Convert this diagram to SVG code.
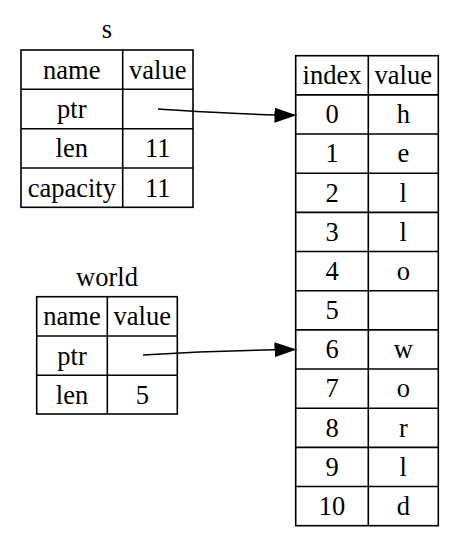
<svg xmlns="http://www.w3.org/2000/svg" width="460" height="538" viewBox="0 0 460 538">
<style>
text{font-family:"Liberation Serif","Times New Roman",serif;font-size:26.5px;fill:#000;text-anchor:middle}
.g{fill:#fff;stroke:#000;stroke-width:1.6}
.c{stroke:#000;stroke-width:1.6;fill:none}
.e{stroke:#000;stroke-width:1.5;fill:none}
</style>
<defs>
<marker id="ah" markerUnits="userSpaceOnUse" markerWidth="24" markerHeight="16" refX="22" refY="7.5" orient="auto">
<path d="M0,0 L22,7.5 L0,15 Z" fill="#000"/>
</marker>
</defs>
<rect width="460" height="538" fill="#fff"/>
<g id="s">
<text x="107" y="38">s</text>
<rect class="g" x="21" y="50" width="172" height="157.3"/>
<path class="c" d="M122.7,50V207.3M21,89.3H193M21,128.7H193M21,168H193"/>
<text x="71.8" y="78.5">name</text><text x="157.8" y="78.5">value</text>
<text x="71.8" y="117.8">ptr</text>
<text x="71.8" y="157.2">len</text><text x="157.8" y="157.2">11</text>
<text x="71.8" y="196.5">capacity</text><text x="157.8" y="196.5">11</text>
</g>
<g id="world">
<text x="107" y="286">world</text>
<rect class="g" x="36.7" y="296.7" width="140.6" height="117.3"/>
<path class="c" d="M107.3,296.7V414M36.7,336H177.3M36.7,375.3H177.3"/>
<text x="72" y="325.2">name</text><text x="142.3" y="325.2">value</text>
<text x="72" y="364.5">ptr</text>
<text x="72" y="403.5">len</text><text x="142.3" y="403.5">5</text>
</g>
<g id="array">
<rect class="g" x="295.7" y="55.7" width="142.6" height="470"/>
<path class="c" d="M368.3,55.7V525.7M295.7,94.9H438.3M295.7,134H438.3M295.7,173.2H438.3M295.7,212.4H438.3M295.7,251.5H438.3M295.7,290.7H438.3M295.7,329.9H438.3M295.7,369H438.3M295.7,408.2H438.3M295.7,447.4H438.3M295.7,486.5H438.3"/>
<text x="332" y="84">index</text><text x="403.3" y="84">value</text>
<text x="332" y="123.2">0</text><text x="403.3" y="123.2">h</text>
<text x="332" y="162.4">1</text><text x="403.3" y="162.4">e</text>
<text x="332" y="201.6">2</text><text x="403.3" y="201.6">l</text>
<text x="332" y="240.7">3</text><text x="403.3" y="240.7">l</text>
<text x="332" y="279.9">4</text><text x="403.3" y="279.9">o</text>
<text x="332" y="319.1">5</text>
<text x="332" y="358.2">6</text><text x="403.3" y="358.2">w</text>
<text x="332" y="397.4">7</text><text x="403.3" y="397.4">o</text>
<text x="332" y="436.6">8</text><text x="403.3" y="436.6">r</text>
<text x="332" y="475.7">9</text><text x="403.3" y="475.7">l</text>
<text x="332" y="514.9">10</text><text x="403.3" y="514.9">d</text>
</g>
<g id="edges">
<path class="e" d="M158,109 C205,112 245,115 296.5,115.3" marker-end="url(#ah)"/>
<path class="e" d="M143,355 C190,352 240,350 296.5,349.5" marker-end="url(#ah)"/>
</g>
</svg>
